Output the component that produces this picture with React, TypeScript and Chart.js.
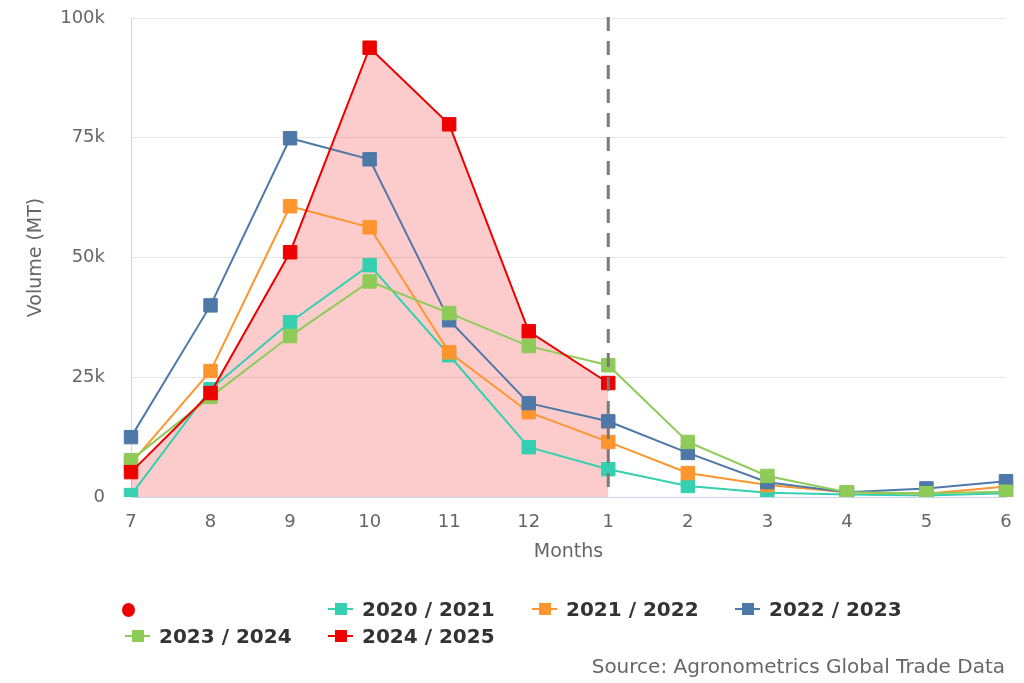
import React, { useEffect, useRef } from 'react';
import { Chart, registerables } from 'chart.js';

Chart.register(...registerables);

const months = ['7', '8', '9', '10', '11', '12', '1', '2', '3', '4', '5', '6'];
const yTicks = [0, 25000, 50000, 75000, 100000];
const series2020 = [400, 22500, 36500, 48400, 29600, 10400, 5800, 2300, 900, 500, 300, 800];
const series2021 = [7000, 26300, 60700, 56300, 30200, 17700, 11500, 5000, 2500, 1000, 700, 2200];
const series2022 = [12500, 40000, 74900, 70500, 36900, 19600, 15800, 9200, 3100, 1000, 1800, 3300];
const series2023 = [7700, 20900, 33600, 45000, 38400, 31500, 27500, 11500, 4400, 1000, 800, 1100];
const series2024 = [5200, 21700, 51100, 93800, 77800, 34600, 23800, null, null, null, null, null];
const seasonLabels = ['2020 / 2021', '2021 / 2022', '2022 / 2023', '2023 / 2024', '2024 / 2025'];
const seasonColors = ['#35d0b0', '#ff952e', '#4e78a8', '#8fcb58', '#ee0000'];
const markerMonth = '1';

const FONT = '"DejaVu Sans", sans-serif';

const dashedLinePlugin = {
  id: 'dashedMonthLine',
  afterDatasetsDraw(chart: any) {
    const x = chart.scales.x.getPixelForValue(months.indexOf(markerMonth));
    const { top, bottom } = chart.chartArea;
    const ctx = chart.ctx;
    ctx.save();
    ctx.strokeStyle = '#7a7a7a';
    ctx.lineWidth = 3;
    ctx.setLineDash([14, 10]);
    ctx.beginPath();
    ctx.moveTo(x, top - 1);
    ctx.lineTo(x, bottom);
    ctx.stroke();
    ctx.restore();
  },
};

function LegendItem({ color, label, left, top }: { color: string; label: string; left: number; top: number }) {
  return (
    <div style={{ position: 'absolute', left, top: top - 13, height: 26, display: 'flex', alignItems: 'center' }}>
      <div style={{ position: 'relative', width: 25, height: 26 }}>
        <div style={{ position: 'absolute', left: 0, top: 12, width: 25, height: 2, background: color }} />
        <div style={{ position: 'absolute', left: 6.5, top: 7, width: 12, height: 12, background: color }} />
      </div>
      <span style={{ marginLeft: 9, font: `bold 20px ${FONT}`, color: '#333333', whiteSpace: 'nowrap' }}>{label}</span>
    </div>
  );
}

export default function App() {
  const canvasRef = useRef<HTMLCanvasElement | null>(null);

  useEffect(() => {
    if (!canvasRef.current) return;
    const datasets = [series2020, series2021, series2022, series2023, series2024].map((data, i) => ({
      label: seasonLabels[i],
      data,
      borderColor: seasonColors[i],
      backgroundColor: i === 4 ? 'rgba(238,0,0,0.2)' : seasonColors[i],
      pointBackgroundColor: seasonColors[i],
      pointBorderColor: seasonColors[i],
      pointBorderWidth: 1,
      pointStyle: 'rect' as const,
      pointRadius: 9.5,
      borderWidth: 2,
      tension: 0,
      fill: i === 4 ? 'origin' : false,
      spanGaps: false,
      order: 5 - i,
    }));

    const chart = new Chart(canvasRef.current, {
      type: 'line',
      data: { labels: months, datasets },
      plugins: [dashedLinePlugin],
      options: {
        animation: false,
        responsive: true,
        maintainAspectRatio: false,
        layout: { padding: { left: 0, top: 18, right: 18, bottom: 118 } },
        plugins: {
          legend: { display: false },
          tooltip: { enabled: false },
          filler: { drawTime: 'beforeDatasetsDraw' },
        } as any,
        scales: {
          x: {
            offset: false,
            grid: { display: false, drawTicks: false },
            border: { display: true, color: '#ccd6eb', width: 1 },
            ticks: { color: '#666666', font: { family: FONT, size: 18 }, padding: 15, maxRotation: 0, autoSkip: false },
            title: { display: true, text: 'Months', color: '#666666', font: { family: FONT, size: 19 }, padding: { top: 0, bottom: 2 } },
            afterFit: (s: any) => { s.height = 68; s.paddingLeft = 0; s.paddingRight = 0; },
          },
          y: {
            min: 0,
            max: 100000,
            afterBuildTicks: (s: any) => { s.ticks = yTicks.map((v) => ({ value: v })); },
            grid: { display: true, color: '#e6e6e6', lineWidth: 1, drawTicks: false },
            border: { display: true, color: '#ccd6eb', width: 1 },
            ticks: {
              color: '#666666',
              font: { family: FONT, size: 18 },
              padding: 26,
              callback: (v: any) => (Number(v) === 0 ? '0' : `${Number(v) / 1000}k`),
            },
            title: { display: true, text: 'Volume (MT)', color: '#666666', font: { family: FONT, size: 19 }, padding: { top: 25, bottom: 0 } },
            afterFit: (s: any) => { s.width = 131; s.paddingTop = 0; s.paddingBottom = 0; },
          },
        },
      },
    });
    return () => chart.destroy();
  }, []);

  const colLeft = [125, 328, 532, 735];
  const row1 = 609;
  const row2 = 636;

  return (
    <div style={{ position: 'absolute', left: 0, top: 0, width: 1024, height: 683, background: '#ffffff', overflow: 'hidden' }}>
      <canvas ref={canvasRef} />
      <div style={{ position: 'absolute', left: 121.5, top: row1 - 6.5, width: 13, height: 14, borderRadius: '50%', background: '#ee0000' }} />
      <LegendItem color={seasonColors[0]} label={seasonLabels[0]} left={colLeft[1]} top={row1} />
      <LegendItem color={seasonColors[1]} label={seasonLabels[1]} left={colLeft[2]} top={row1} />
      <LegendItem color={seasonColors[2]} label={seasonLabels[2]} left={colLeft[3]} top={row1} />
      <LegendItem color={seasonColors[3]} label={seasonLabels[3]} left={colLeft[0]} top={row2} />
      <LegendItem color={seasonColors[4]} label={seasonLabels[4]} left={colLeft[1]} top={row2} />
      <div style={{ position: 'absolute', right: 19, top: 654, font: `20px ${FONT}`, color: '#666666', whiteSpace: 'nowrap' }}>
        Source: Agronometrics Global Trade Data
      </div>
    </div>
  );
}
